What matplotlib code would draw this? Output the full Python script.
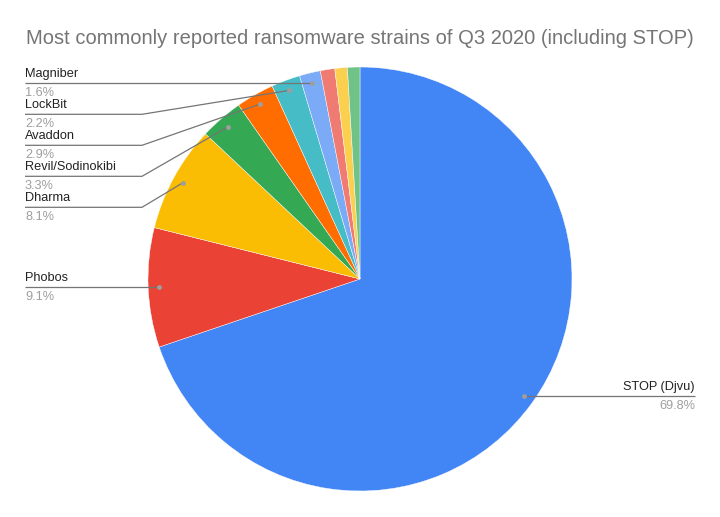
import numpy as np
import matplotlib
matplotlib.use("Agg")
import matplotlib.pyplot as plt

plt.rcParams['font.family'] = ['Liberation Sans', 'DejaVu Sans']

# Данные
strains = ["STOP (Djvu)", "Phobos", "Dharma", "Revil/Sodinokibi", "Avaddon",
           "LockBit", "Magniber", "Other 1", "Other 2", "Other 3"]
shares = [69.8, 9.1, 8.1, 3.3, 2.9, 2.2, 1.6, 1.1, 0.95, 0.95]
show_label = [True, True, True, True, True, True, True, False, False, False]
colors = ["#4285F4", "#EA4335", "#FBBC04", "#34A853", "#FF6D01",
          "#46BDC6", "#7BAAF7", "#F07B72", "#FCD04F", "#71C287"]

W, H = 720, 517
cx, cy, r = 360, 279, 212

fig = plt.figure(figsize=(W / 100, H / 100), dpi=100)
ax = fig.add_axes([0, 0, 1, 1])

# Пирог в пиксельных координатах (y снизу вверх)
ax.pie(shares, colors=colors, startangle=90, counterclock=False,
       center=(cx, H - cy), radius=r,
       wedgeprops=dict(linewidth=0.3, edgecolor="white"))
ax.set_xlim(0, W)
ax.set_ylim(0, H)
ax.set_aspect("equal")
ax.axis("off")

fig.text(26 / W, 1 - 38 / H, "Most commonly reported ransomware strains of Q3 2020 (including STOP)",
         fontsize=14.5, color="#757575", va="center", ha="left")

# Подписи с выносками
total = sum(shares)
start = 0.0
left_items = []
right_items = []
for name, val, show in zip(strains, shares, show_label):
    mid = start + val / total * 360 / 2
    start += val / total * 360
    if not show:
        continue
    ang = np.deg2rad(90 - mid)
    dx = cx + 0.95 * r * np.cos(ang)
    dy = cy - 0.95 * r * np.sin(ang)  # пиксели, y вниз
    if dx < cx:
        left_items.append((dy, dx, name, val))
    else:
        right_items.append((dy, dx, name, val))

line_col = "#757575"
dot_col = "#9E9E9E"


def draw_label(dx, dy, ly, x_end, elbow_x, name, val, ha):
    if abs(ly - dy) > 1:
        xs = [dx, elbow_x, x_end]
        ys = [dy, ly, ly]
    else:
        xs = [dx, x_end]
        ys = [dy, dy]
        ly = dy
    ax.plot(xs, [H - y for y in ys], color=line_col, lw=0.9, solid_capstyle="butt")
    ax.plot(dx, H - dy, "o", ms=3.5, color=dot_col, mec="none")
    ax.text(x_end, H - ly + 3, name, fontsize=9.2, color="#222222", ha=ha, va="bottom")
    ax.text(x_end, H - ly - 4, "%.1f%%" % val, fontsize=9.2, color="#9E9E9E", ha=ha, va="top")


left_items.sort()
prev = -1e9
for dy, dx, name, val in left_items:
    ly = max(dy, prev + 31)
    prev = ly
    draw_label(dx, dy, ly, 25, 142, name, val, "left")

for dy, dx, name, val in right_items:
    draw_label(dx, dy, dy, 695, 600, name, val, "right")

fig.savefig("out.png", dpi=100, facecolor="white")
